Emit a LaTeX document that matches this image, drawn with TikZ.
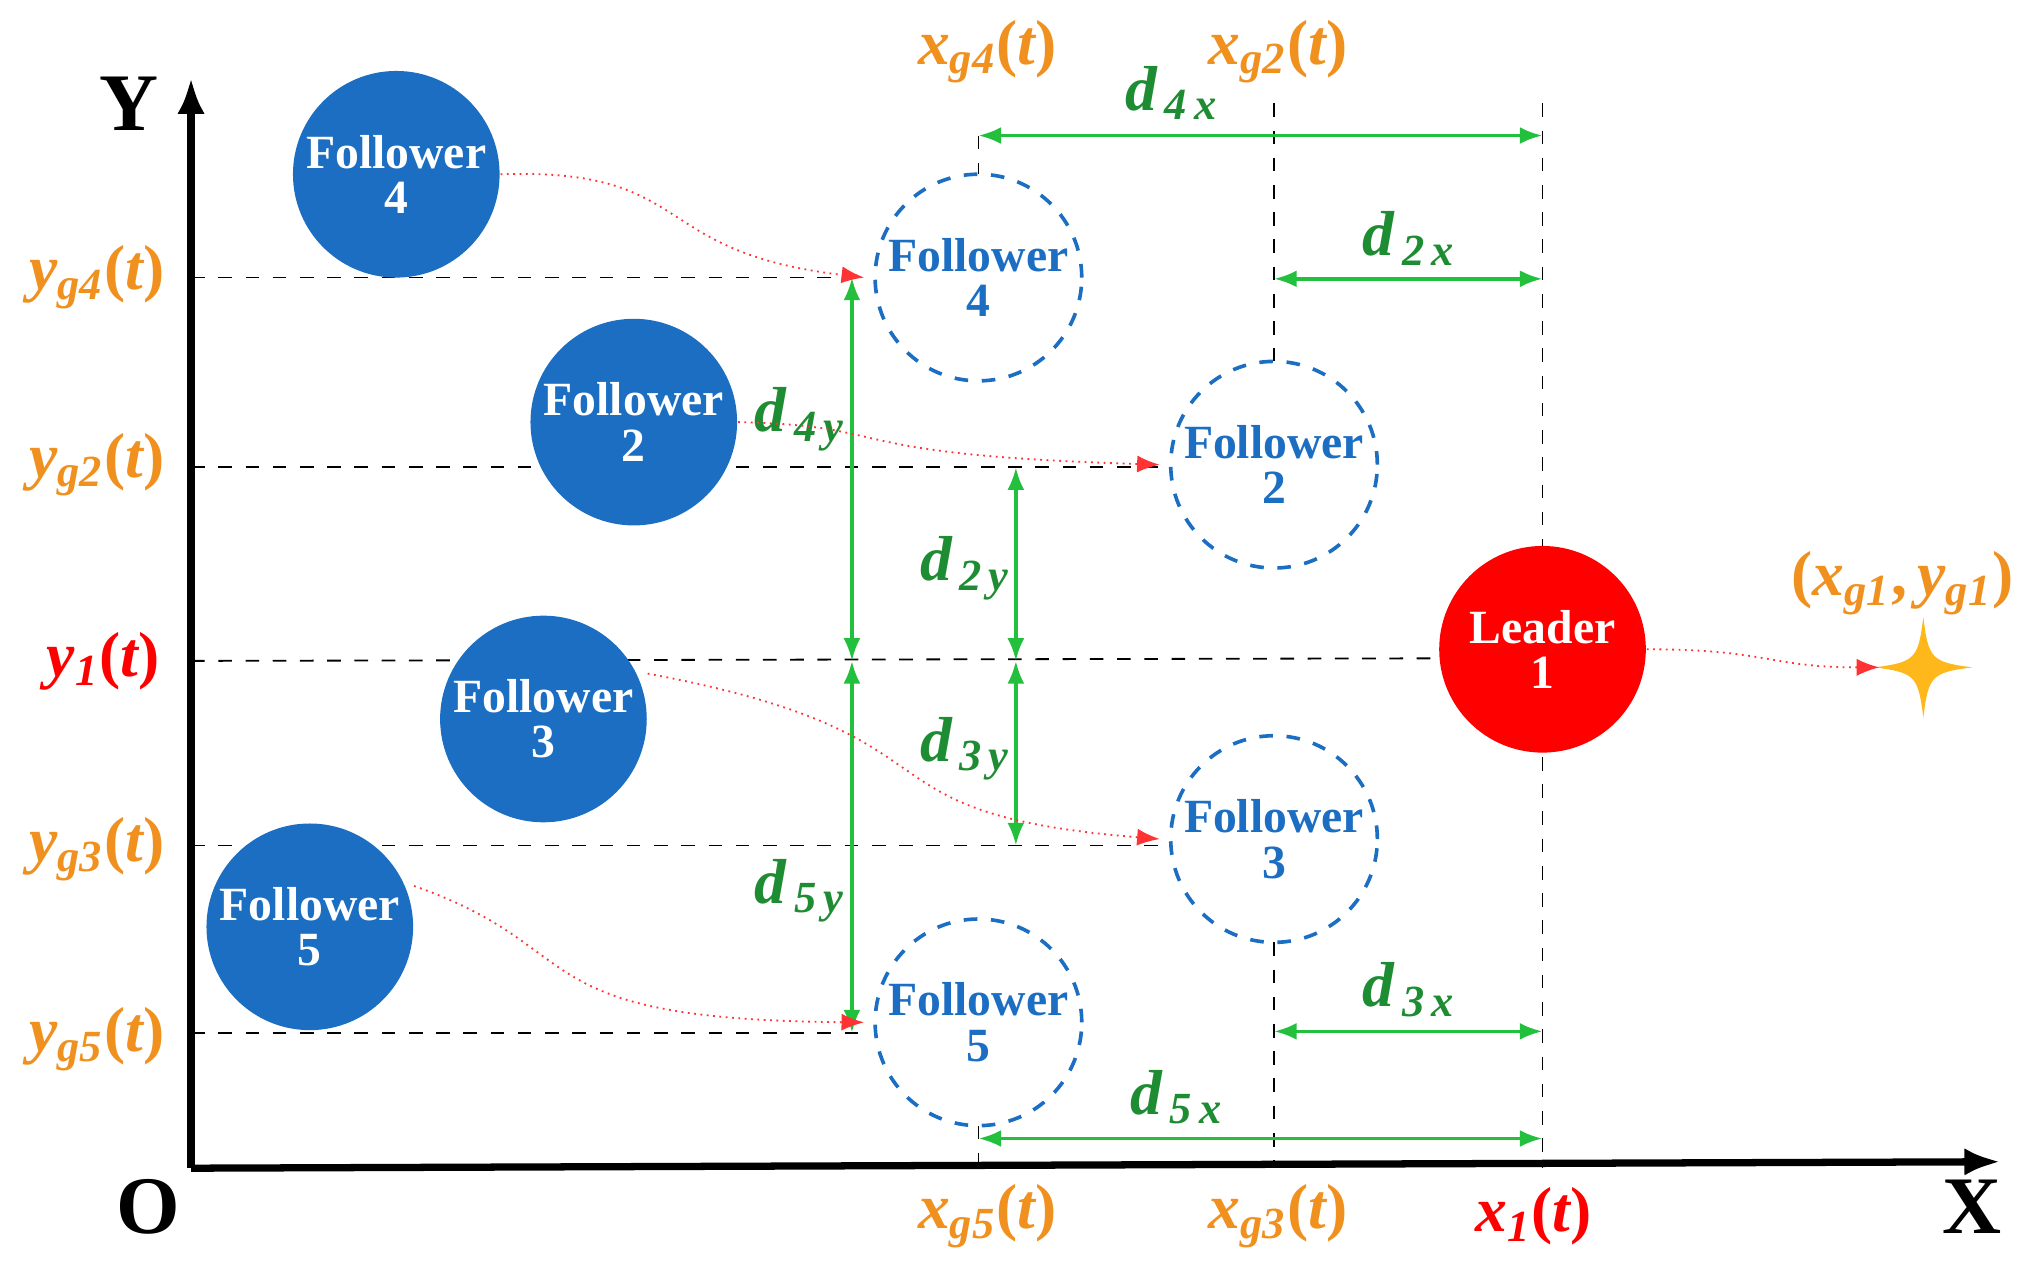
\documentclass[tikz,border=0pt]{standalone}
\usepackage{fontspec}
\setmainfont{Liberation Serif}
\usetikzlibrary{arrows.meta}
\definecolor{fblue}{HTML}{1B6EC2}
\definecolor{lab}{HTML}{F0901E}
\definecolor{dgreen}{HTML}{1E8C32}
\definecolor{agreen}{HTML}{22C03C}
\definecolor{staryel}{HTML}{FFB81C}
\newcommand{\lb}[3]{\bfseries\itshape #1\textsubscript{#2}\upshape(\itshape #3\upshape)}
\newcommand{\dl}[2]{\bfseries\itshape d\textsubscript{\,#1\,#2}}
\tikzset{
 fol/.style={circle,fill=fblue,minimum size=1.6cm,inner sep=0,text=white,font=\fontsize{10.5}{10}\selectfont\bfseries,align=center},
 lead/.style={fol,fill=red},
 goal/.style={circle,draw=fblue,dashed,thick,minimum size=1.6cm,inner sep=0,text=fblue,font=\fontsize{10.5}{10}\selectfont\bfseries,align=center},
 gl/.style={dashed,thin},
 lbl/.style={text=lab,font=\fontsize{14}{14}\selectfont},
 dlab/.style={text=dgreen,font=\fontsize{14}{14}\selectfont},
 ga/.style={agreen,thick,{Latex[length=5pt]}-{Latex[length=5pt]}},
 tr/.style={red!80,densely dotted,thin,-{Latex[length=5pt]}},
 ax/.style={line width=1.6pt,-{Latex[length=8pt]}}
}
\begin{document}
\begin{tikzpicture}[x=0.01cm,y=-0.01cm]
\useasboundingbox (0,0) rectangle (1568,987);
% axes
\coordinate (O) at (148,905);
\coordinate (Ytop) at (148,60);
\coordinate (Xend) at (1550,900);
\draw[ax] (O) -- (Ytop);
\draw[ax] (O) -- (Xend);
\node[font=\fontsize{18}{18}\selectfont\bfseries] (Y) at (100,80) {Y};
\node[font=\fontsize{18}{18}\selectfont\bfseries] (Ol) at (115,935) {O};
\node[font=\fontsize{18}{18}\selectfont\bfseries] (X) at (1528,935) {X};
% grid lines
\draw[gl] (148,215) -- (660,215);
\draw[gl] (148,362) -- (905,362);
\draw[gl] (148,512) -- (1115,510);
\draw[gl] (148,655) -- (905,655);
\draw[gl] (148,800) -- (675,800);
\draw[gl] (758,105) -- (758,135);
\draw[gl] (758,872) -- (758,905);
\draw[gl] (987,80) -- (987,280);
\draw[gl] (987,730) -- (987,905);
\draw[gl] (1195,80) -- (1195,905);
% nodes
\node[fol] (f4) at (307,135) {Follower\\4};
\node[fol] (f2) at (491,327) {Follower\\2};
\node[fol] (f3) at (421,557) {Follower\\3};
\node[fol] (f5) at (240,718) {Follower\\5};
\node[lead] (l1) at (1195,503) {Leader\\1};
\node[goal] (g4) at (758,215) {Follower\\4};
\node[goal] (g2) at (987,360) {Follower\\2};
\node[goal] (g3) at (987,650) {Follower\\3};
\node[goal] (g5) at (758,792) {Follower\\5};
\coordinate (star) at (1490,517);
\coordinate (startip) at (1456,517);
\fill[staryel] (1490,478) .. controls (1494,510) and (1496,513) .. (1528,517)
  .. controls (1496,521) and (1494,524) .. (1490,556)
  .. controls (1486,524) and (1484,521) .. (1452,517)
  .. controls (1484,513) and (1486,510) .. cycle;
% labels
\node[lbl] (ly4) at (75,215) {\lb{y}{g4}{t}};
\node[lbl] (ly2) at (75,360) {\lb{y}{g2}{t}};
\node[lbl,text=red] (ly1) at (80,512) {\lb{y}{1}{t}};
\node[lbl] (ly3) at (75,658) {\lb{y}{g3}{t}};
\node[lbl] (ly5) at (75,805) {\lb{y}{g5}{t}};
\node[lbl] (lx4) at (765,40) {\lb{x}{g4}{t}};
\node[lbl] (lx2) at (990,40) {\lb{x}{g2}{t}};
\node[lbl] (lx5) at (765,942) {\lb{x}{g5}{t}};
\node[lbl] (lx3) at (990,942) {\lb{x}{g3}{t}};
\node[lbl,text=red] (lx1) at (1188,942) {\lb{x}{1}{t}};
\node[lbl] (lg) at (1474,452) {\bfseries(\itshape x\textsubscript{g1}\upshape,\,\itshape y\textsubscript{g1}\upshape)};
% distance arrows
\coordinate (a1) at (758,105); \coordinate (a2) at (1195,105);
\draw[ga] (a1) -- (a2);
\coordinate (b1) at (987,216); \coordinate (b2) at (1195,216);
\draw[ga] (b1) -- (b2);
\coordinate (c1) at (987,799); \coordinate (c2) at (1195,799);
\draw[ga] (c1) -- (c2);
\coordinate (e1) at (758,882); \coordinate (e2) at (1195,882);
\draw[ga] (e1) -- (e2);
\coordinate (v1) at (660,215); \coordinate (v2) at (660,512); \coordinate (v3) at (660,800);
\draw[ga] (v1) -- (v2);
\draw[ga] (v2) -- (v3);
\coordinate (w1) at (787,362); \coordinate (w2) at (787,512); \coordinate (w3) at (787,655);
\draw[ga] (w1) -- (w2);
\draw[ga] (w2) -- (w3);
\node[dlab] (d4x) at (908,72) {\dl{4}{x}};
\node[dlab] (d2x) at (1092,185) {\dl{2}{x}};
\node[dlab] (d3x) at (1092,767) {\dl{3}{x}};
\node[dlab] (d5x) at (912,850) {\dl{5}{x}};
\node[dlab] (d4y) at (620,325) {\dl{4}{y}};
\node[dlab] (d2y) at (748,440) {\dl{2}{y}};
\node[dlab] (d3y) at (748,580) {\dl{3}{y}};
\node[dlab] (d5y) at (620,690) {\dl{5}{y}};
% trajectories
\draw[tr] (f4.east) .. controls (540,130) and (500,195) .. ([xshift=-2]g4.west);
\draw[tr] (f2.east) .. controls (700,330) and (640,352) .. ([xshift=-2]g2.west);
\draw[tr] ([yshift=10]f3.east) .. controls (760,570) and (650,630) .. ([xshift=-2]g3.west);
\draw[tr] ([yshift=9]f5.east) .. controls (460,735) and (400,790) .. ([xshift=-2]g5.west);
\draw[tr] (l1.east) .. controls (1370,503) and (1370,517) .. (startip);
\end{tikzpicture}
\end{document}
